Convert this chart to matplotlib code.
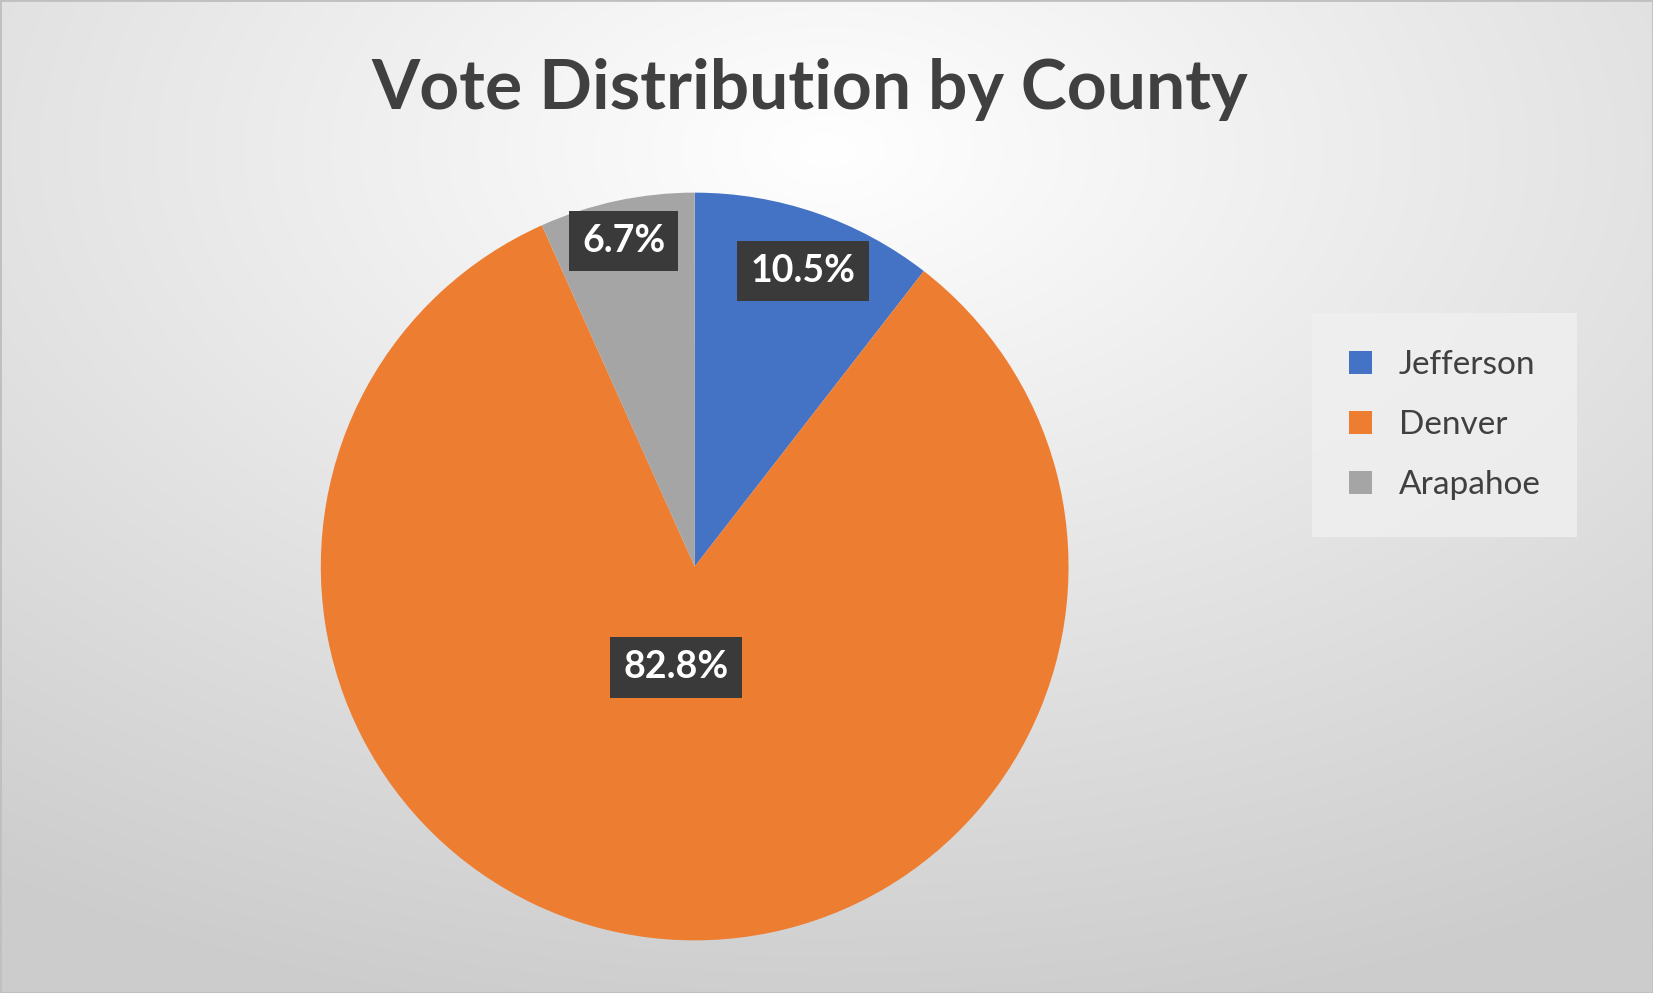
import matplotlib
matplotlib.use("Agg")
import matplotlib.pyplot as plt
import numpy as np

categories = ["Jefferson", "Denver", "Arapahoe"]
values = [10.5, 82.8, 6.7]
colors = ["#4472C4", "#ED7D31", "#A5A5A5"]
label_pos = [(0.29, 0.79), (-0.05, -0.27), (-0.19, 0.87)]

plt.rcParams['font.family'] = ['Lato', 'DejaVu Sans']
fig = plt.figure(figsize=(16.53, 9.93), dpi=100)

# radial gradient background
bg = fig.add_axes([0, 0, 1, 1])
h, w = 400, 660
yy, xx = np.mgrid[0:h, 0:w]
cx, cy = 0.5 * w, 0.15 * h
d = np.sqrt(((xx - cx) / w) ** 2 + ((yy - cy) / h) ** 2)
d = np.clip(d / 0.9, 0, 1)
g = 1.0 - 0.2 * d
bg.imshow(np.dstack([g, g, g]), aspect='auto', extent=[0, 1, 0, 1])
bg.plot([0, 1, 1, 0, 0], [0, 0, 1, 1, 0], color="#bfbfbf", lw=2)
bg.set_xlim(0, 1); bg.set_ylim(0, 1)
bg.axis('off')

ax = fig.add_axes([0.194, 0.053, 0.4525, 0.753])
wedges, _ = ax.pie(values, colors=colors, startangle=90, counterclock=False)
ax.set_xlim(-1, 1); ax.set_ylim(-1, 1)
ax.set_aspect('equal')
for v, (x, y) in zip(values, label_pos):
    ax.text(x, y, f"{v}%", ha='center', va='center', color='white',
            fontsize=27, fontweight='bold',
            bbox=dict(boxstyle='square,pad=0.35', fc='#3a3a3a', ec='none'))

fig.text(0.49, 0.91, "Vote Distribution by County", ha='center', va='center',
         fontsize=50, fontweight='bold', color='#404040')

leg = fig.legend(wedges, categories, loc='center', bbox_to_anchor=(0.874, 0.572),
                 fontsize=24, frameon=True, handlelength=0.7, handleheight=0.7,
                 labelspacing=0.9, borderpad=0.8)
leg.get_frame().set_facecolor('#f0f0f0')
leg.get_frame().set_edgecolor('none')
leg.get_frame().set_boxstyle('square')
for t in leg.get_texts():
    t.set_color('#404040')

fig.savefig("out.png", dpi=100)
